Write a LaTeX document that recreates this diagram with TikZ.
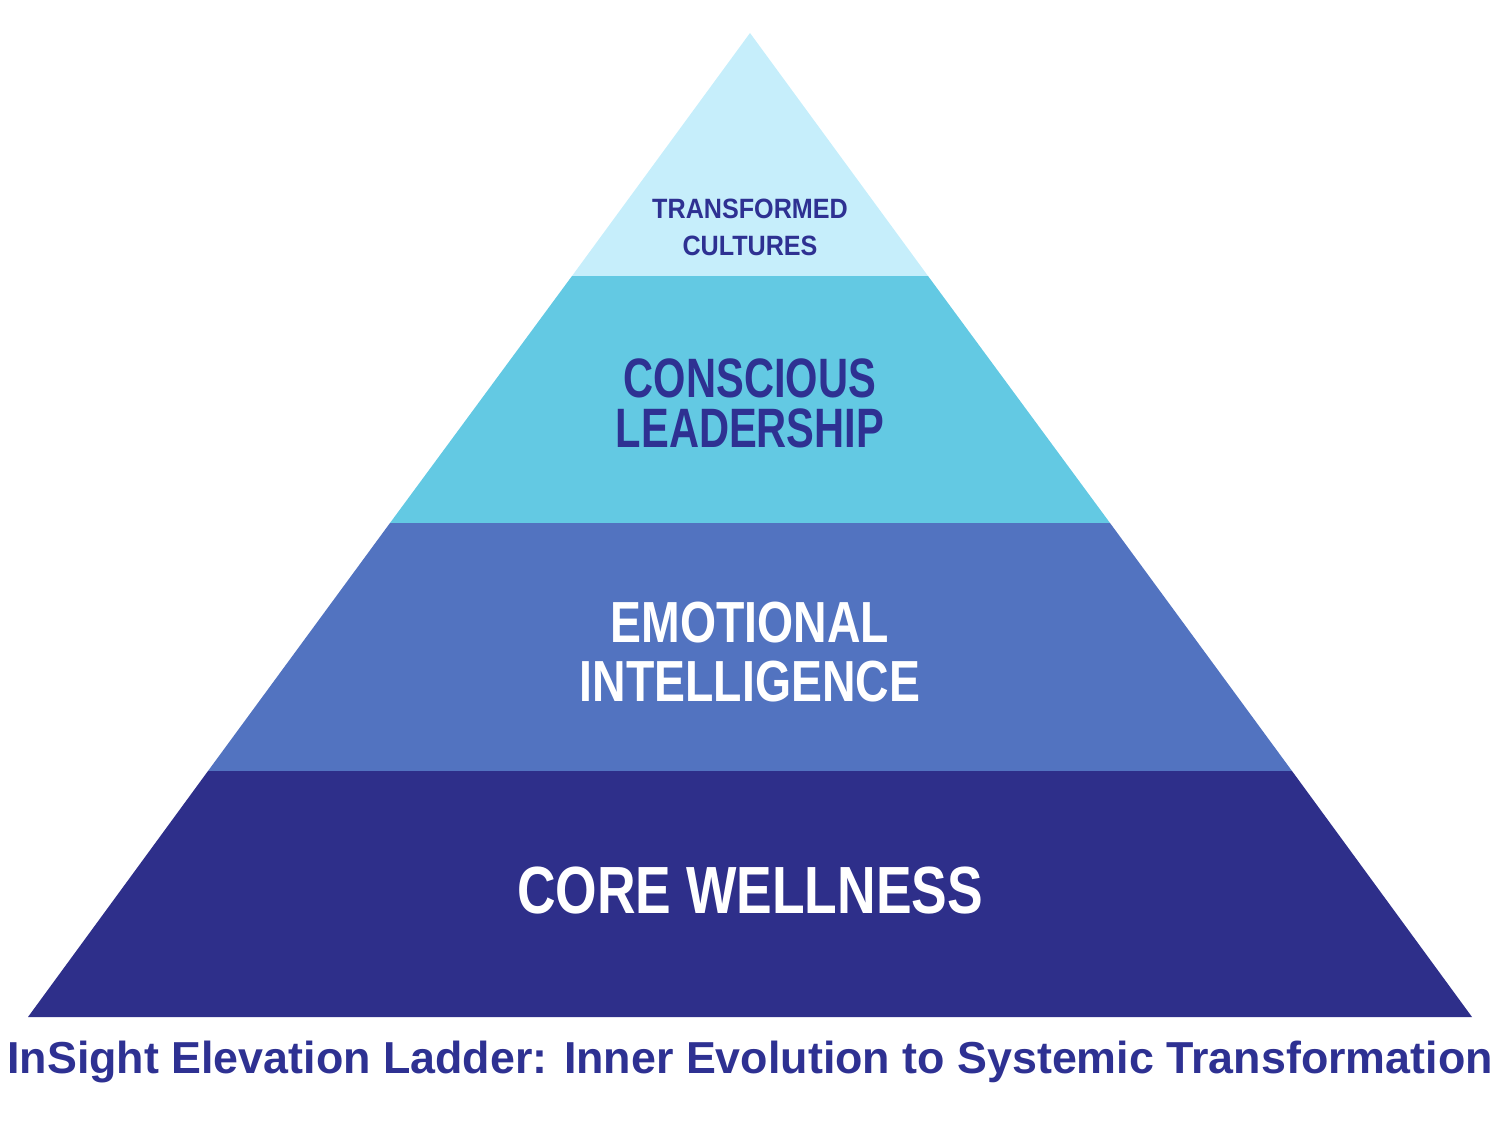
\documentclass[tikz,border=0pt]{standalone}
\usepackage{fontspec}
\setmainfont{Liberation Sans}
% condensed cuts of the same family for the tier labels
\newfontfamily\condTop[FakeStretch=0.9]{Liberation Sans}
\newfontfamily\condTwo[FakeStretch=0.75]{Liberation Sans}
\newfontfamily\condThree[FakeStretch=0.8]{Liberation Sans}
\newfontfamily\condBase[FakeStretch=0.8]{Liberation Sans}

\definecolor{tierTop}{HTML}{C6EEFB}
\definecolor{tierTwo}{HTML}{63C9E3}
\definecolor{tierThree}{HTML}{5273C0}
\definecolor{tierBase}{HTML}{2E2F8A}
\definecolor{inkNavy}{HTML}{2E3192}

\begin{document}
\begin{tikzpicture}[x=0.02cm, y=-0.02cm,
  tierlabel/.style={inner sep=0pt, align=center, anchor=center}]
  \useasboundingbox (0,0) rectangle (1500,1125);

  % bands of the pyramid, apex (750,33), base y=1017
  \fill[tierTop]   (750,33) -- (928,276) -- (572,276) -- cycle;
  \fill[tierTwo]   (572,276) -- (928,276) -- (1110,523) -- (390,523) -- cycle;
  \fill[tierThree] (390,523) -- (1110,523) -- (1292,771) -- (208,771) -- cycle;
  \fill[tierBase]  (208,771) -- (1292,771) -- (1472,1017) -- (28,1017) -- cycle;

  % labels
  \node[tierlabel, text=inkNavy, font=\condTop\bfseries\fontsize{15.9pt}{21pt}\selectfont]
    (cultures) at (750,227) {TRANSFORMED\\CULTURES};
  \node[tierlabel, text=inkNavy, font=\condTwo\bfseries\fontsize{31.6pt}{28.5pt}\selectfont]
    (leadership) at (750,403) {CONSCIOUS\\LEADERSHIP};
  \node[tierlabel, text=white, font=\condThree\bfseries\fontsize{33pt}{33.2pt}\selectfont]
    (intelligence) at (750,652) {EMOTIONAL\\INTELLIGENCE};
  \node[inner sep=0pt, anchor=base, text=white, font=\condBase\bfseries\fontsize{38pt}{40pt}\selectfont]
    (wellness) at (750,913) {CORE WELLNESS};

  \node[inner sep=0pt, anchor=base, text=inkNavy, font=\bfseries\fontsize{25.5pt}{30pt}\selectfont]
    (caption) at (750,1073) {InSight Elevation Ladder: Inner Evolution to Systemic Transformation};
\end{tikzpicture}
\end{document}
